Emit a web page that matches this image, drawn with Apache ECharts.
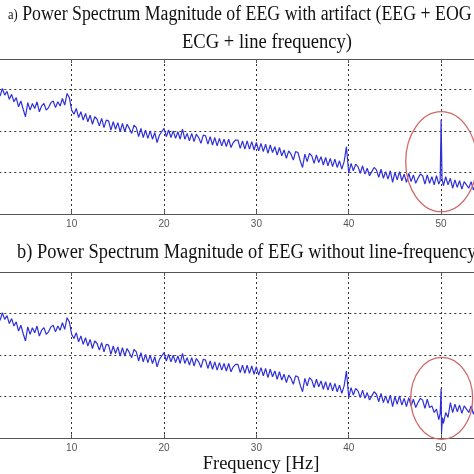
<!DOCTYPE html>
<html>
<head>
<meta charset="utf-8">
<script src="https://cdn.jsdelivr.net/npm/echarts@6/dist/echarts.min.js"></script>
<style>
  html, body { margin: 0; padding: 0; background: #fff; }
  #main { width: 474px; height: 474px; }
</style>
</head>
<body>
<div id="main"></div>
<script>
//频率轴刻度
var freqTicks = [0, 10, 20, 30, 40, 50, 60];

//频谱 (2 Hz 起, 每 0.25 Hz 一个点, 相对幅值)
var freqFirst = 2.0;
var freqStep  = 0.25;
var eegSpectrum = [
    2.96, 2.84, 3.02, 2.86,   2.95, 2.76, 2.88, 2.70,   2.80, 2.58, 2.72, 2.52,
    2.34, 2.68, 2.50, 2.66,   2.54, 2.70, 2.46, 2.60,   2.66, 2.50, 2.56, 2.68,
    2.72, 2.56, 2.70, 2.60,   2.78, 2.62, 2.90, 2.80,   2.50, 2.40, 2.54, 2.32,
    2.46, 2.26, 2.42, 2.22,   2.38, 2.16, 2.34, 2.28,   2.12, 2.30, 2.08, 2.26,
    2.24, 2.02, 2.22, 2.04,   2.20, 1.98, 2.18, 1.98,   2.16, 2.06, 1.94, 2.14,
    2.08, 1.86, 2.06, 1.84,   2.02, 1.82, 2.00, 1.80,   1.96, 1.72, 1.90, 1.98,
    2.06, 1.86, 2.02, 1.84,   2.00, 1.82, 1.98, 1.80,   2.04, 1.80, 1.94, 1.76,
    1.94, 1.74, 1.92, 1.84,   1.70, 1.90, 1.88, 1.68,   1.86, 1.66, 1.84, 1.64,
    1.82, 1.64, 1.80, 1.62,   1.80, 1.60, 1.72, 1.78,   1.78, 1.58, 1.76, 1.56,
    1.76, 1.56, 1.74, 1.54,   1.72, 1.52, 1.70, 1.50,   1.68, 1.46, 1.66, 1.48,
    1.62, 1.42, 1.60, 1.40,   1.54, 1.34, 1.52, 1.44,   1.30, 1.50, 1.48, 1.28,
    1.12, 1.44, 1.26, 1.46,   1.40, 1.22, 1.42, 1.24,   1.38, 1.18, 1.36, 1.16,
    1.34, 1.14, 1.32, 1.12,   1.28, 1.08, 1.26, 1.62,   0.98, 1.22, 1.04, 1.20,
    1.14, 0.98, 1.16, 0.96,   1.10, 0.92, 1.02, 1.12,   1.06, 0.88, 1.08, 0.86,
    1.02, 0.84, 1.04, 0.76,   1.00, 0.82, 1.02, 0.80,   0.96, 0.76, 0.98, 0.78,
    0.94, 0.74, 0.86, 0.96,   0.92, 0.72, 0.94, 0.74,   0.90, 0.70, 0.92, 0.72,
    0.88, 0.68, 0.90, 0.70,   0.86, 0.62, 0.82, 0.64,   0.80, 0.60, 0.78, 0.70,
    0.62, 0.78, 0.58, 0.74,   0.70
];

//a) 50 Hz 工频尖峰
var lineFreqA = [[49.9, 0.80], [50.0, 2.27], [50.1, 0.84]];
//b) 滤波后 50 Hz 附近
var lineFreqB = [
    [49.0, 0.78], [49.25, 0.62], [49.5, 0.70], [49.75, 0.45], [49.9, 0.60],
    [50.0, 1.20], [50.05, 0.14], [50.15, 0.50], [50.25, 0.36], [50.5, 0.62], [50.75, 0.50]
];

//用局部数据替换基础频谱的一段
function build_series(patch) {
    var from = patch[0][0], to = patch[patch.length - 1][0];
    var res = [];
    for (var i = 0; i < eegSpectrum.length; i++) {
        var f = freqFirst + i * freqStep;
        if (f < from || f > to) {
            res.push([f, eegSpectrum[i]]);
        }
    }
    res = res.concat(patch);
    res.sort(function (a, b) { return a[0] - b[0]; });
    return res;
}

var dotted = { color: '#333', width: 1, type: [2, 3] };
var labelFont = { color: '#555', fontSize: 10, fontFamily: 'Liberation Sans Narrow, Liberation Sans, sans-serif', margin: 5 };

function x_axis(idx) {
    return {
        type: 'value', gridIndex: idx, min: freqTicks[0], max: 61, interval: 10,
        axisLine: { show: true, lineStyle: { color: '#555' } },
        axisTick: { show: true, inside: true, length: 4, lineStyle: { color: '#555' } },
        axisLabel: labelFont,
        splitLine: { show: true, lineStyle: dotted },
        name: idx == 1 ? 'Frequency [Hz]' : '',
        nameLocation: 'middle', nameGap: 13,
        nameTextStyle: { fontFamily: 'Liberation Serif', fontSize: 18.5, color: '#111' }
    };
}

function x_axis_top(idx) {
    return {
        type: 'value', gridIndex: idx, position: 'top', min: freqTicks[0], max: 61, interval: 10,
        axisLine: { show: true, lineStyle: { color: '#555' } },
        axisTick: { show: true, inside: true, length: 4, lineStyle: { color: '#555' } },
        axisLabel: { show: false }, splitLine: { show: false }
    };
}

function y_axis(idx, max) {
    return {
        type: 'value', gridIndex: idx, min: 0, max: max, interval: 1,
        axisLine: { show: false }, axisTick: { show: false }, axisLabel: { show: false },
        splitLine: { show: true, lineStyle: dotted }
    };
}

var myChart = echarts.init(document.getElementById('main'));
var titleFont = { fontFamily: 'Liberation Serif', fontSize: 20, fill: '#111' };

var option = {
    backgroundColor: '#fff',
    animation: false,
    grid: [
        { left: -20.7, right: -68.7, top: 59, height: 155, outerBoundsMode: 'none', containLabel: false },
        { left: -20.7, right: -68.7, top: 272, height: 166.3, outerBoundsMode: 'none', containLabel: false }
    ],
    xAxis: [x_axis(0), x_axis(1), x_axis_top(0), x_axis_top(1)],
    yAxis: [y_axis(0, 3.73), y_axis(1, 4)],
    series: [
        {
            type: 'line', xAxisIndex: 0, yAxisIndex: 0, data: build_series(lineFreqA),
            showSymbol: false, lineStyle: { color: '#3030d8', width: 1.2 }
        },
        {
            type: 'line', xAxisIndex: 1, yAxisIndex: 1, data: build_series(lineFreqB),
            showSymbol: false, lineStyle: { color: '#3030d8', width: 1.2 }
        }
    ],
    graphic: [
        {
            type: 'text', x: 8, y: 15, scaleX: 0.89,
            style: Object.assign({
                text: '{s|a)} Power Spectrum Magnitude of EEG with artifact (EEG + EOG +',
                verticalAlign: 'middle', align: 'left',
                rich: { s: { fontFamily: 'Liberation Serif', fontSize: 14, fill: '#111' } }
            }, titleFont)
        },
        {
            type: 'text', x: 267, y: 43, scaleX: 0.93,
            style: Object.assign({ text: 'ECG + line frequency)', verticalAlign: 'middle', align: 'center' }, titleFont)
        },
        {
            type: 'text', x: 17, y: 253, scaleX: 0.92,
            style: Object.assign({ text: 'b) Power Spectrum Magnitude of EEG without line-frequency', verticalAlign: 'middle', align: 'left' }, titleFont)
        },
        //红色圈注 50 Hz
        {
            type: 'ellipse', shape: { cx: 441.3, cy: 161.7, rx: 35.6, ry: 50 },
            style: { fill: 'none', stroke: '#d06868', lineWidth: 1.3 }, z: 10
        },
        {
            type: 'ellipse', shape: { cx: 441.7, cy: 398.3, rx: 31, ry: 41 },
            style: { fill: 'none', stroke: '#d06868', lineWidth: 1.3 }, z: 10
        }
    ]
};
myChart.setOption(option);
</script>
</body>
</html>
